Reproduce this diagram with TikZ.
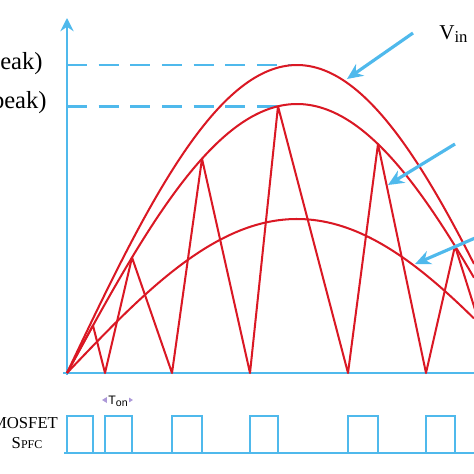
\documentclass[tikz,border=0pt]{standalone}
\usepackage{fontspec}
\setmainfont{Liberation Serif}
\newfontfamily\tonfont{Liberation Sans}
\usetikzlibrary{arrows.meta}

\definecolor{axisblue}{RGB}{79,185,236}
\definecolor{wavered}{RGB}{218,24,36}
\definecolor{tonlilac}{RGB}{172,152,216}

\begin{document}
\begin{tikzpicture}[x=0.2mm, y=0.2mm,
	axisline/.style={draw=axisblue, line width=1.7pt},
	guide/.style={draw=axisblue, line width=1.7pt, dash pattern=on 11.5pt off 6.5pt},
	wave/.style={draw=wavered, line width=1.15pt, line join=round},
	pointer/.style={draw=axisblue, line width=1.8pt, -{Stealth[length=9pt,width=8pt]}},
	pulse/.style={draw=axisblue, line width=1.6pt},
	tonmark/.style={draw=tonlilac, line width=0.6pt, {Triangle[length=3pt,width=3.5pt]}-{Triangle[length=3pt,width=3.5pt]}},
	bigtext/.style={inner sep=0pt, font=\fontsize{14}{16}\selectfont},
	gatetext/.style={inner sep=0pt, font=\fontsize{9.5}{11}\selectfont}]
		\useasboundingbox (-67,-101) rectangle (407,373);
		\clip (-67,-101) rectangle (407,373);
		
		\begin{scope}
	\draw[axisline] (-4,0) -- (407,0);
	\draw[axisline, -{Stealth[length=7.5pt,width=7.5pt]}] (0,-2) -- (0,355);
	
	\coordinate (vin-axis) at (0,308);
	\coordinate (vin-peak) at (230,308);
	\coordinate (ipk-axis) at (0,{269*sin(211*0.391304)});
	\coordinate (ipk-peak) at (211,{269*sin(211*0.391304)});
	\draw[guide] (vin-axis) -- (vin-peak);
	\draw[guide] (ipk-axis) -- (ipk-peak);
	
	\draw[wave] plot[domain=0:407, samples=120] (\x, {308*sin(\x*0.391304)});
	\draw[wave] plot[domain=0:407, samples=120] (\x, {269*sin(\x*0.391304)});
	\draw[wave] plot[domain=0:407, samples=120] (\x, {154*sin(\x*0.391304)});
	
	\draw[wave] (0,0)
	  \foreach \pk/\zr in {26/38, 65/105, 135/183, 211/281, 311/359, 388/428}
	  { -- (\pk, {269*sin(\pk*0.391304)}) -- (\zr, 0) };
		\end{scope}
		
		\begin{scope}
	\coordinate (vin-tail) at (346,340);
	\coordinate (vin-tip) at (280,294);
	\coordinate (ramp-tail) at (388,229);
	\coordinate (ramp-tip) at (321,188);
	\coordinate (avg-tail) at (422,141);
	\coordinate (avg-tip) at (348,109);
	\draw[pointer] (vin-tail) -- (vin-tip);
	\draw[pointer] (ramp-tail) -- (ramp-tip);
	\draw[pointer] (avg-tail) -- (avg-tip);
	
	\node[bigtext, anchor=base west, font=\fontsize{12}{14}\selectfont] (vin) at (372,333)
	  {V\raisebox{-1.5pt}{\fontsize{9.5}{10}\selectfont in}};
	\node[bigtext, anchor=base east] (vpk) at (-24,303) {eak)};
	\node[bigtext, anchor=base east] (ipk) at (-20,264) {peak)};
		\end{scope}
		
		\begin{scope}
	\draw[pulse] (-3,-80) -- (407,-80);
	\foreach \zr/\pk in {0/26, 38/65, 105/135, 183/211, 281/311, 359/388}
	  \draw[pulse] (\zr,-80) |- (\pk,-43) -- (\pk,-80);
	
	\coordinate (ton-l) at (35,-27);
	\coordinate (ton-r) at (66,-27);
	\draw[tonmark] (ton-l) -- (ton-r);
	\node[fill=white, inner sep=0.6pt, anchor=base, font=\tonfont\fontsize{7}{8}\selectfont] (ton) at (51,-31)
	  {T\raisebox{-1.6pt}{\fontsize{6}{6}\selectfont on}};
	
	\node[gatetext, anchor=base] (mosfet) at (-42,-55) {MOSFET};
	\node[gatetext, anchor=base] (spfc) at (-40,-76)
	  {S{\fontsize{6.8}{7}\selectfont PFC}};
		\end{scope}
	\end{tikzpicture}
\end{document}
